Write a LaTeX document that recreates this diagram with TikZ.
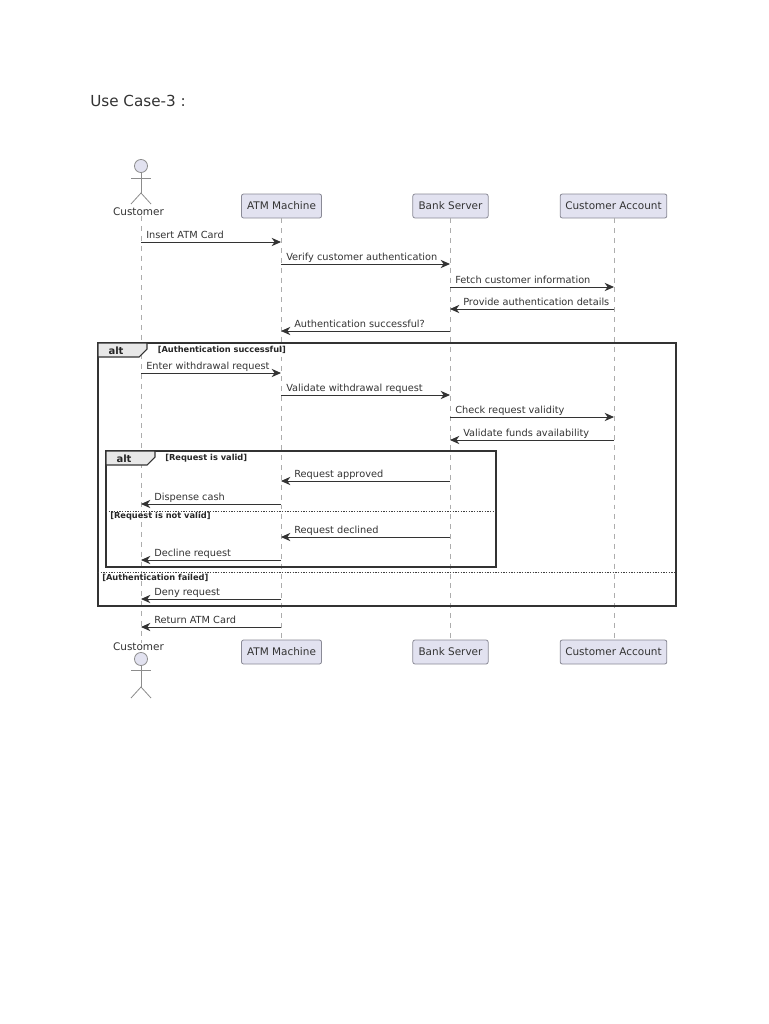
\documentclass[tikz,border=0pt]{standalone}
\usepackage{fontspec}
\setmainfont{DejaVu Sans}
\usetikzlibrary{arrows.meta}
\definecolor{partfill}{HTML}{E2E2F0}
\definecolor{partline}{HTML}{8A8A96}
\definecolor{inkc}{HTML}{333333}
\newcommand{\pxfont}[1]{\fontsize{#1}{#1}\selectfont}
\newcommand{\msgR}[5]{% id, from, to, y, label
  \coordinate (#1s) at (#2 |- 0,#4);
  \coordinate (#1e) at (#3 |- 0,#4);
  \draw[msgline] (#1s) -- (#1e);
  \node[msglabel] (#1t) at ([xshift=3.75pt,yshift=2.6pt]#1s) {#5};}
\newcommand{\msgL}[5]{% id, from, to, y, label
  \coordinate (#1s) at (#2 |- 0,#4);
  \coordinate (#1e) at (#3 |- 0,#4);
  \draw[msgline] (#1s) -- (#1e);
  \node[msglabel] (#1t) at ([xshift=9.75pt,yshift=2.6pt]#1e) {#5};}
\newcommand{\actorfig}[4]{% head y, arm y, body end y, leg end y
  \draw[actorln,fill=partfill] (cx |- 0,#1) circle[radius=4.9pt];
  \draw[actorln] (141,#1+6.5) -- (141,#3);
  \draw[actorln] (131,#2) -- (151,#2);
  \draw[actorln] (131,#4) -- (141,#3) -- (151,#4);}
\tikzset{
  x=0.75pt,y=-0.75pt,
  part/.style={draw=partline,fill=partfill,rounded corners=1.6pt,line width=0.6pt,minimum height=18pt,inner sep=0pt,font=\pxfont{7.85},text=inkc},
  msgline/.style={draw=inkc,line width=0.7pt,-{Stealth[length=7pt,width=6.2pt,inset=2.2pt]}},
  msglabel/.style={anchor=base west,inner sep=0pt,font=\pxfont{7.33},text=inkc},
  lifeline/.style={draw=black!32,line width=0.5pt,dash pattern=on 3.7pt off 3.7pt},
  actorln/.style={draw=black!45,line width=0.6pt},
  frame/.style={draw=black!80,line width=1.3pt},
  tabshape/.style={fill=black!9,draw=black!80,line width=0.8pt},
  divider/.style={draw=black!75,line width=0.5pt,dash pattern=on 1pt off 1pt},
  guard/.style={anchor=base west,inner sep=0pt,font=\bfseries\pxfont{6.2},text=black!85},
  altlabel/.style={inner sep=0pt,font=\bfseries\pxfont{7.5},text=black!85},
  actorname/.style={inner sep=0pt,font=\pxfont{7.85},text=inkc}
}
\begin{document}
\begin{tikzpicture}
\useasboundingbox[fill=white] (0,0) rectangle (768,1024);
\node[anchor=base west,inner sep=0pt,font=\pxfont{11.4},text=inkc] (title) at (90,106) {Use Case-3 :};
% anchors for lifelines
\coordinate (cx) at (141,218);
\node[part,minimum width=60pt] (atm) at (281.5,206) {ATM Machine};
\node[part,minimum width=56.5pt] (bank) at (450.5,206) {Bank Server};
\node[part,minimum width=80pt] (acct) at (613.5,206) {Customer Account};
\node[part,minimum width=60pt] (atmb) at (281.5,652) {ATM Machine};
\node[part,minimum width=56.5pt] (bankb) at (450.5,652) {Bank Server};
\node[part,minimum width=80pt] (acctb) at (613.5,652) {Customer Account};
\node[actorname] (cust) at (138.5,212) {Customer};
\node[actorname] (custb) at (138.5,647) {Customer};
\coordinate (ax) at (281,0);
\coordinate (bx) at (450,0);
\coordinate (dx) at (614,0);
% lifelines
\draw[lifeline] (cust.south -| cx) -- (custb.north -| cx);
\draw[lifeline] (atm.south -| ax) -- (atmb.north -| ax);
\draw[lifeline] (bank.south -| bx) -- (bankb.north -| bx);
\draw[lifeline] (acct.south -| dx) -- (acctb.north -| dx);
% actors
\actorfig{166}{178}{193}{204}
\actorfig{659}{670}{687}{698}
% frames
\coordinate (oa) at (98,343); \coordinate (ob) at (676,606);
\coordinate (ia) at (106,451); \coordinate (ib) at (496,567);
\draw[frame] (oa) rectangle (ob);
\draw[tabshape] (98,343) -- (147,343) -- (147,349) -- (139,357) -- (98,357) -- cycle;
\node[altlabel] (alt1) at (116,350.5) {alt};
\node[guard] (g1) at (157.5,352.5) {[Authentication successful]};
\draw[divider] (98,572) -- (676,572);
\node[guard] (g2) at (102,580) {[Authentication failed]};
\draw[frame] (ia) rectangle (ib);
\draw[tabshape] (106,451) -- (155,451) -- (155,457) -- (147,465) -- (106,465) -- cycle;
\node[altlabel] (alt2) at (124,458.5) {alt};
\node[guard] (g3) at (165,460.5) {[Request is valid]};
\draw[divider] (106,511) -- (496,511);
\node[guard] (g4) at (110,518.5) {[Request is not valid]};
% messages
\msgR{m1}{cx}{ax}{242}{Insert ATM Card}
\msgR{m2}{ax}{bx}{264}{Verify customer authentication}
\msgR{m3}{bx}{dx}{287}{Fetch customer information}
\msgL{m4}{dx}{bx}{309}{Provide authentication details}
\msgL{m5}{bx}{ax}{331}{Authentication successful?}
\msgR{m6}{cx}{ax}{373}{Enter withdrawal request}
\msgR{m7}{ax}{bx}{395}{Validate withdrawal request}
\msgR{m8}{bx}{dx}{417}{Check request validity}
\msgL{m9}{dx}{bx}{440}{Validate funds availability}
\msgL{m10}{bx}{ax}{481}{Request approved}
\msgL{m11}{ax}{cx}{504}{Dispense cash}
\msgL{m12}{bx}{ax}{537}{Request declined}
\msgL{m13}{ax}{cx}{560}{Decline request}
\msgL{m14}{ax}{cx}{599}{Deny request}
\msgL{m15}{ax}{cx}{627}{Return ATM Card}
\end{tikzpicture}
\end{document}
